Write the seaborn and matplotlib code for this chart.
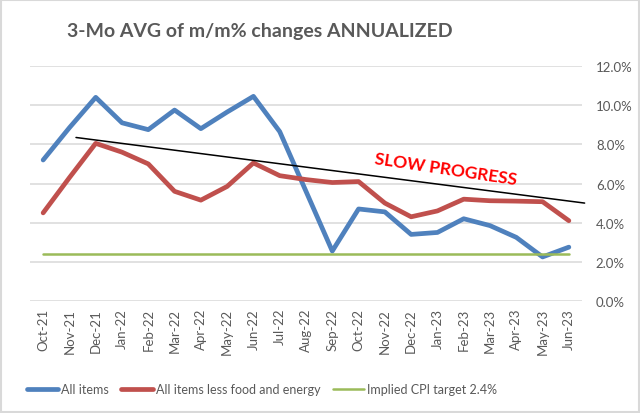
import pandas as pd
import numpy as np
import seaborn as sns
import matplotlib.pyplot as plt
from matplotlib.patches import Rectangle
from matplotlib.ticker import FuncFormatter

months = ["Oct-21", "Nov-21", "Dec-21", "Jan-22", "Feb-22", "Mar-22", "Apr-22",
          "May-22", "Jun-22", "Jul-22", "Aug-22", "Sep-22", "Oct-22", "Nov-22",
          "Dec-22", "Jan-23", "Feb-23", "Mar-23", "Apr-23", "May-23", "Jun-23"]
all_items = [7.2, 8.85, 10.4, 9.1, 8.75, 9.75, 8.8, 9.65, 10.45, 8.65, 5.6,
             2.55, 4.7, 4.55, 3.4, 3.5, 4.2, 3.85, 3.25, 2.25, 2.75]
core = [4.5, 6.3, 8.05, 7.6, 7.0, 5.6, 5.15, 5.85, 7.05, 6.4, 6.2,
        6.05, 6.1, 5.0, 4.3, 4.6, 5.2, 5.12, 5.1, 5.07, 4.1]
target = 2.4
trend_x = [1.25, 20.6]
trend_y = [8.35, 5.0]

blue = "#4F81BD"
red = "#C0504D"
green = "#9BBB59"
grey_txt = "#595959"

sns.set_style("white")
plt.rcParams['font.family'] = ['Lato', 'DejaVu Sans']

idx = np.arange(len(months))
df = pd.DataFrame({"idx": idx, "All items": all_items,
                   "All items less food and energy": core,
                   "Implied CPI target 2.4%": [target] * len(months)})

fig = plt.figure(figsize=(6.4, 4.14), dpi=100)
ax = fig.add_axes([30/640, (414-302)/414, (582-30)/640, (302-67)/414])

sns.lineplot(data=df, x="idx", y="All items", ax=ax, color=blue, lw=3.4,
             label="All items")
sns.lineplot(data=df, x="idx", y="All items less food and energy", ax=ax,
             color=red, lw=3.4, label="All items less food and energy")
sns.lineplot(data=df, x="idx", y="Implied CPI target 2.4%", ax=ax,
             color=green, lw=1.8, label="Implied CPI target 2.4%")
ax.plot(trend_x, trend_y, color="black", lw=1.1, clip_on=False)

ax.text(15.3, 6.75, "SLOW PROGRESS", color="#FF0000", fontsize=12.5,
        fontweight="bold", rotation=-8.5, ha="center", va="center")

ax.set_xlim(-0.5, len(months) - 0.5)
ax.set_ylim(0, 12)
ax.set_yticks(np.arange(0, 12.1, 2))
ax.yaxis.set_major_formatter(FuncFormatter(lambda v, p: f"{v:.1f}%"))
ax.yaxis.tick_right()
ax.set_xticks(idx)
ax.set_xticklabels(months, rotation=90)
ax.tick_params(axis="both", length=0, colors=grey_txt, labelsize=9.5)
ax.tick_params(axis="y", pad=10)
ax.tick_params(axis="x", pad=5)
ax.set_xlabel("")
ax.set_ylabel("")
ax.grid(axis="y", color="#D9D9D9", lw=1.1)
for s in ax.spines.values():
    s.set_visible(False)

ax.get_legend().remove()
handles, labels = ax.get_legend_handles_labels()
fig.legend(handles, labels, loc="center", bbox_to_anchor=(262/640, 1 - 390/414),
           ncol=3, frameon=False, fontsize=9, handlelength=2.5,
           columnspacing=1.0, handletextpad=0.25, labelcolor=grey_txt)

fig.text(260/640, 1 - 31/414, "3-Mo AVG of m/m% changes ANNUALIZED",
         ha="center", va="center", fontsize=14, fontweight="bold", color=grey_txt)

fig.patches.append(Rectangle((0.002, 0.002), 0.996, 0.996, transform=fig.transFigure,
                             fill=False, edgecolor="#D9D9D9", lw=1.5))

fig.savefig("out.png", dpi=100)
